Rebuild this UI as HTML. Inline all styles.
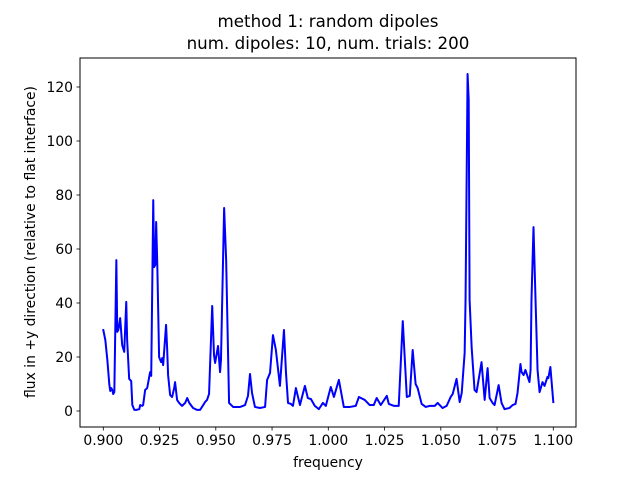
<!DOCTYPE html>
<html><head><meta charset="utf-8"><style>
html,body{margin:0;padding:0;background:#fff;}
svg{display:block;font-family:"DejaVu Sans","Liberation Sans",sans-serif;}
</style></head><body>
<svg id="chart" width="640" height="480" viewBox="0 0 640 480" xmlns="http://www.w3.org/2000/svg">
<rect width="640" height="480" fill="#fff"/>
<text x="328" y="27" font-size="16.7" text-anchor="middle">method 1: random dipoles</text>
<text x="328" y="49" font-size="16.7" text-anchor="middle">num. dipoles: 10, num. trials: 200</text>
<g id="plot"></g>
<rect x="80" y="58" width="496" height="369" fill="none" stroke="#000" stroke-width="1"/>
<text x="328" y="467" font-size="13.9" text-anchor="middle">frequency</text>
<text transform="translate(35,242) rotate(-90)" font-size="13.9" text-anchor="middle">flux in +y direction (relative to flat interface)</text>
</svg>
<script>
const freqs=[0.9000,0.9009,0.9018,0.9027,0.9031,0.9035,0.9040,0.9044,0.9049,0.9058,0.9062,0.9067,0.9075,0.9084,0.9093,0.9102,0.9106,0.9115,0.9124,0.9129,0.9138,0.9146,0.9160,0.9164,0.9173,0.9177,0.9186,0.9195,0.9200,0.9204,0.9208,0.9213,0.9222,0.9226,0.9231,0.9235,0.9240,0.9248,0.9253,0.9257,0.9262,0.9266,0.9279,0.9284,0.9288,0.9297,0.9306,0.9315,0.9319,0.9328,0.9337,0.9350,0.9364,0.9373,0.9382,0.9399,0.9417,0.9430,0.9444,0.9452,0.9461,0.9470,0.9484,0.9492,0.9497,0.9510,0.9519,0.9523,0.9537,0.9546,0.9559,0.9577,0.9608,0.9630,0.9643,0.9652,0.9661,0.9674,0.9696,0.9719,0.9728,0.9741,0.9754,0.9767,0.9785,0.9803,0.9812,0.9821,0.9834,0.9843,0.9856,0.9874,0.9896,0.9909,0.9923,0.9940,0.9958,0.9976,0.9989,1.0011,1.0025,1.0047,1.0069,1.0096,1.0122,1.0136,1.0162,1.0184,1.0202,1.0215,1.0233,1.0260,1.0269,1.0291,1.0313,1.0331,1.0349,1.0362,1.0375,1.0388,1.0397,1.0415,1.0433,1.0451,1.0473,1.0486,1.0508,1.0526,1.0544,1.0553,1.0570,1.0584,1.0593,1.0606,1.0610,1.0619,1.0624,1.0628,1.0637,1.0650,1.0659,1.0681,1.0695,1.0708,1.0717,1.0730,1.0739,1.0757,1.0770,1.0783,1.0805,1.0819,1.0832,1.0841,1.0854,1.0859,1.0868,1.0876,1.0894,1.0899,1.0903,1.0912,1.0921,1.0930,1.0939,1.0952,1.0961,1.0974,1.0978,1.0987,1.1000];
const flux=[30.0,26.3,18.9,9.6,7.4,8.5,7.8,6.3,7.0,55.9,29.3,30.0,34.4,24.4,21.9,40.4,26.3,11.9,11.1,2.2,0.4,0.4,0.7,2.2,1.9,2.2,7.8,8.5,10.7,12.6,14.4,13.0,78.1,53.3,54.1,70.0,54.1,20.0,18.9,18.1,19.6,17.0,31.9,22.6,13.3,5.9,5.2,8.5,10.7,4.1,3.0,1.9,3.0,4.8,3.0,1.1,0.4,0.4,2.2,3.3,4.1,6.3,38.9,20.7,17.8,24.1,14.4,18.9,75.2,55.9,3.0,1.5,1.5,2.2,5.6,13.7,6.7,1.5,1.1,1.5,11.5,14.1,28.1,22.6,9.3,30.0,14.1,3.0,2.6,1.9,8.5,2.2,9.3,4.8,4.4,1.9,0.7,3.0,1.9,8.9,5.2,11.5,1.5,1.5,1.9,5.2,4.1,2.2,2.2,4.8,2.2,5.6,2.6,1.9,1.9,33.3,5.2,5.6,22.6,10.0,8.5,2.6,1.5,1.9,1.9,3.0,1.1,1.9,5.2,6.3,11.9,3.3,6.7,21.5,41.1,124.8,115.2,41.1,23.7,7.8,7.0,18.1,4.1,15.9,4.8,3.0,2.2,9.6,3.0,0.7,1.1,2.2,2.6,6.7,17.4,14.4,13.3,15.2,10.7,15.2,41.1,68.1,41.1,15.2,7.0,10.7,9.3,12.6,12.2,16.3,3.3];
const xTicks=[0.9,0.925,0.95,0.975,1.0,1.025,1.05,1.075,1.1];
const xTickLabels=["0.900","0.925","0.950","0.975","1.000","1.025","1.050","1.075","1.100"];
const yTicks=[0,20,40,60,80,100,120];
const yTickLabels=["0","20","40","60","80","100","120"];

const NS="http://www.w3.org/2000/svg";
const g=document.getElementById('plot');
function xs(v){return 103.3+(v-0.9)/0.2*450;}
function ys(v){return 411-v*2.7;}
function mk(tag,attrs){const e=document.createElementNS(NS,tag);for(const k in attrs)e.setAttribute(k,attrs[k]);g.appendChild(e);return e;}

xTicks.forEach((t,i)=>{
  const x=xs(t);
  const l=mk('line',{x1:x,x2:x,y1:427,y2:430.5,stroke:'#000','stroke-width':0.8});
  
  
  const tx=mk('text',{x:x,y:445,'font-size':13.9,'text-anchor':'middle'});
  tx.textContent=xTickLabels[i];
  
  
});
yTicks.forEach((t,i)=>{
  const y=ys(t);
  const l=mk('line',{x1:76.5,x2:80,y1:y,y2:y,stroke:'#000','stroke-width':0.8});
  
  
  const tx=mk('text',{x:73,y:y+5,'font-size':13.9,'text-anchor':'end'});
  tx.textContent=yTickLabels[i];
  
  
});
let d='';
freqs.forEach((f,i)=>{d+=(i?'L':'M')+xs(f).toFixed(2)+' '+ys(flux[i]).toFixed(2);});
const p=mk('path',{d:d,fill:'none',stroke:'#0000ff','stroke-width':2,'stroke-linejoin':'round','stroke-linecap':'square'});


</script>
</body></html>
